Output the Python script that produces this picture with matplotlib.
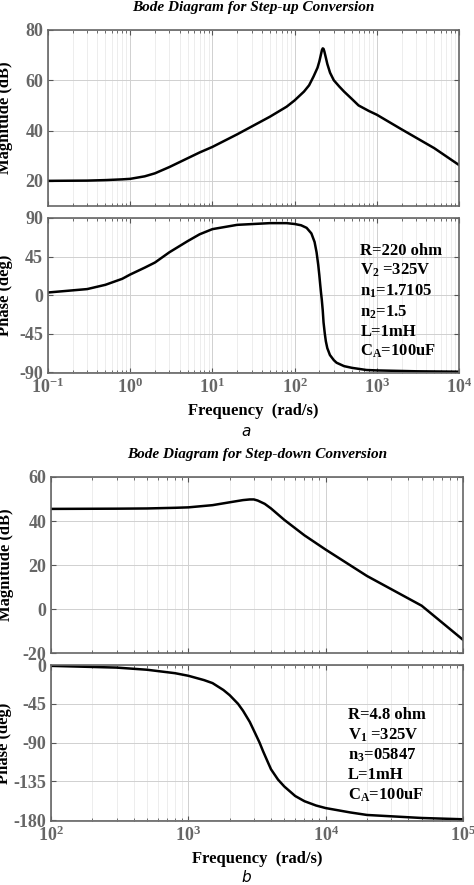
import matplotlib
matplotlib.use("Agg")
import matplotlib.pyplot as plt
import matplotlib.ticker as mt

plt.rcParams['font.family'] = ['Liberation Serif', 'DejaVu Serif']
plt.rcParams['mathtext.fontset'] = 'custom'
plt.rcParams['mathtext.rm'] = 'Liberation Serif:bold'
plt.rcParams['mathtext.it'] = 'Liberation Serif:bold'
plt.rcParams['mathtext.bf'] = 'Liberation Serif:bold'
plt.rcParams['axes.unicode_minus'] = False

# Step-up conversion
up_mag_w = [0.1, 0.3, 0.5, 0.8, 1, 1.5, 2, 3, 5, 7, 10, 20, 50, 80, 100, 130, 150, 170, 190, 200, 210, 215, 220, 225, 230, 240, 250, 270, 300, 350, 400, 500, 600, 800, 1000, 2000, 5000, 10000]
up_mag_db = [20, 20.1, 20.3, 20.6, 20.8, 21.8, 23, 25.5, 29, 31.3, 33.5, 38.5, 45.5, 49.5, 52, 55.5, 58, 61.5, 65, 67.5, 70.5, 72, 72.7, 72.5, 71.5, 69, 66.5, 63, 60, 57.5, 55.5, 52.5, 50, 47.8, 46.3, 40.5, 33, 26.3]
up_ph_w = [0.1, 0.3, 0.5, 0.8, 1, 1.5, 2, 3, 5, 7, 10, 20, 50, 80, 100, 120, 140, 160, 175, 185, 194, 200, 205, 210, 214, 220, 225, 233, 240, 250, 269, 300, 324, 400, 500, 750, 1000, 3000, 10000]
up_ph_deg = [3, 7, 12, 19, 24, 32, 38, 50, 63, 71, 77, 82, 84, 84, 83, 81.5, 78.5, 72, 62, 50, 35, 23, 12, 2, -5, -18, -32, -45, -54, -62, -70, -76, -79, -83, -85, -87.5, -88, -89, -89.5]

# Step-down conversion
dn_mag_w = [100, 300, 500, 800, 1000, 1500, 2000, 2500, 2800, 3000, 3200, 3600, 4000, 5000, 7000, 10000, 20000, 50000, 100000]
dn_mag_db = [45.5, 45.6, 45.7, 46, 46.2, 47.2, 48.5, 49.5, 49.8, 49.8, 49.3, 47.8, 45.7, 40.5, 33.5, 27, 15, 1.5, -14]
dn_ph_w = [100, 300, 500, 800, 1000, 1300, 1500, 1800, 2000, 2300, 2500, 2800, 3000, 3300, 3500, 3800, 4000, 4500, 5000, 6000, 7000, 8500, 10000, 15000, 20000, 50000, 100000]
dn_ph_deg = [-1, -3, -5.5, -9.5, -12.5, -17.5, -21, -29, -35, -45, -53, -66, -76, -90, -100, -113, -121, -133, -141, -152, -158, -163, -166, -171, -174, -177.5, -179]

up_text = "R=220 ohm\nV$_2$ =325V\nn$_1$=1.7105\nn$_2$=1.5\nL=1mH\nC$_A$=100uF"
dn_text = "R=4.8 ohm\nV$_1$ =325V\nn$_3$=05847\nL=1mH\nC$_A$=100uF"

W, H = 474, 885
fig = plt.figure(figsize=(W/100, H/100), dpi=100)

def ax_at(x0, y0, x1, y1):
    return fig.add_axes([x0/W, 1-y1/H, (x1-x0)/W, (y1-y0)/H])

def style(ax):
    ax.set_xscale('log')
    ax.xaxis.set_minor_locator(mt.LogLocator(base=10, subs=range(2, 10), numticks=20))
    ax.grid(True, which='major', color='#d0d0d0', lw=0.7)
    ax.grid(True, which='minor', color='#e6e6e6', lw=0.5)
    ax.tick_params(which='both', direction='in', top=True, right=True, labelsize=13, labelcolor='#666666', color='#555555')
    for s in ax.spines.values():
        s.set_color('#666666'); s.set_linewidth(1.2)
    for t in ax.get_yticklabels()+ax.get_xticklabels():
        t.set_fontweight('bold')

lab = dict(fontsize=12, fontweight='bold')

def ylab(ax, text, x):
    ax.set_ylabel(text, **lab)
    ax.yaxis.set_label_coords(x, 0.5)

a1 = ax_at(48, 30, 459, 206)
a1.plot(up_mag_w, up_mag_db, color='black', lw=1.8)
a1.set_xlim(0.1, 1e4); a1.set_ylim(10, 80); a1.set_yticks([20, 40, 60, 80])
ylab(a1, 'Magnitude (dB)', -0.085)
a1.set_title('Bode Diagram for Step-up Conversion', fontsize=11, fontweight='bold', style='italic', pad=14)
style(a1); a1.set_xticklabels([])

a2 = ax_at(48, 218, 459, 373)
a2.plot(up_ph_w, up_ph_deg, color='black', lw=1.8)
a2.set_xlim(0.1, 1e4); a2.set_ylim(-91, 90); a2.set_yticks([-90, -45, 0, 45, 90])
ylab(a2, 'Phase (deg)', -0.085)
a2.set_xlabel('Frequency  (rad/s)', **lab)
style(a2)
a2.text(0.76, 0.84, up_text, transform=a2.transAxes, fontsize=12, fontweight='bold', va='top', linespacing=1.25)
fig.text(246/W, 1-431/H, 'a', fontsize=11, style='italic', ha='center', va='center', family='DejaVu Sans')

b1 = ax_at(51, 477, 463, 653)
b1.plot(dn_mag_w, dn_mag_db, color='black', lw=1.8)
b1.set_xlim(1e2, 1e5); b1.set_ylim(-20, 60); b1.set_yticks([-20, 0, 20, 40, 60])
ylab(b1, 'Magnitude (dB)', -0.09)
b1.set_title('Bode Diagram for Step-down Conversion', fontsize=11, fontweight='bold', style='italic', pad=14)
style(b1); b1.set_xticklabels([])

b2 = ax_at(51, 665, 463, 821)
b2.plot(dn_ph_w, dn_ph_deg, color='black', lw=1.8)
b2.set_xlim(1e2, 1e5); b2.set_ylim(-181, 0); b2.set_yticks([-180, -135, -90, -45, 0])
ylab(b2, 'Phase (deg)', -0.095)
b2.set_xlabel('Frequency  (rad/s)', **lab)
style(b2)
b2.text(0.72, 0.73, dn_text, transform=b2.transAxes, fontsize=12, fontweight='bold', va='top', linespacing=1.25)
fig.text(246/W, 1-878/H, 'b', fontsize=11, style='italic', ha='center', va='center', family='DejaVu Sans')

fig.savefig('out.png', dpi=100)
